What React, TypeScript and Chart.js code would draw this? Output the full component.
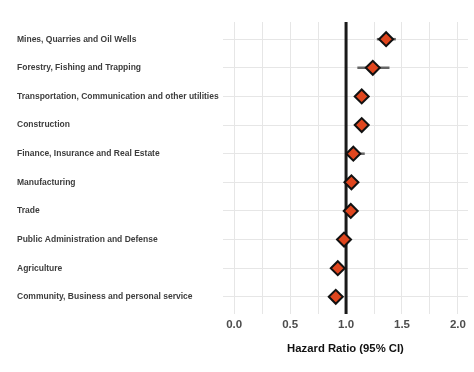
import { useEffect, useRef } from "react";
import { Chart, registerables } from "chart.js";

Chart.register(...registerables);

// Industries listed top to bottom
const industries = [
  "Mines, Quarries and Oil Wells",
  "Forestry, Fishing and Trapping",
  "Transportation, Communication and other utilities",
  "Construction",
  "Finance, Insurance and Real Estate",
  "Manufacturing",
  "Trade",
  "Public Administration and Defense",
  "Agriculture",
  "Community, Business and personal service",
];

const hazardRatio = [1.358, 1.239, 1.14, 1.14, 1.065, 1.048, 1.042, 0.982, 0.926, 0.908];
const ciLower = [1.275, 1.101, 1.1, 1.09, 1.0, 1.01, 1.0, 0.95, 0.88, 0.87];
const ciUpper = [1.445, 1.388, 1.18, 1.19, 1.167, 1.09, 1.08, 1.02, 0.97, 0.95];

// Vertical grid positions (majors every 0.5 are labelled)
const xGrid = [0, 0.25, 0.5, 0.75, 1, 1.25, 1.5, 1.75, 2];
const xLabelled = [0, 0.5, 1, 1.5, 2];
const referenceValue = 1;

const FONT = "'Liberation Sans', Arial, Helvetica, sans-serif";

export default function App() {
  const canvasRef = useRef<HTMLCanvasElement | null>(null);

  useEffect(() => {
    if (!canvasRef.current) return;
    const rows = industries.map((_, i) => i + 1);

    const ciSets = industries.map((_, i) => ({
      type: "line" as const,
      data: [
        { x: ciLower[i], y: rows[i] },
        { x: ciUpper[i], y: rows[i] },
      ],
      borderColor: "#666666",
      borderWidth: 2.5,
      pointRadius: 0,
      showLine: true,
      order: 2,
    }));

    const chart = new Chart(canvasRef.current, {
      type: "scatter",
      data: {
        datasets: [
          {
            type: "scatter",
            data: hazardRatio.map((v, i) => ({ x: v, y: rows[i] })),
            pointStyle: "rectRot",
            pointRadius: 7,
            backgroundColor: "#E0461E",
            borderColor: "#111111",
            borderWidth: 2,
            order: 0,
          },
          {
            type: "line",
            data: [
              { x: referenceValue, y: 0.4 },
              { x: referenceValue, y: 10.6 },
            ],
            borderColor: "#1a1a1a",
            borderWidth: 3,
            pointRadius: 0,
            showLine: true,
            order: 1,
          },
          ...ciSets,
        ] as any,
      },
      options: {
        animation: false,
        responsive: true,
        maintainAspectRatio: false,
        layout: { autoPadding: false, padding: { left: 17, right: 6, top: 22, bottom: 0 } },
        plugins: {
          legend: { display: false },
          tooltip: { enabled: false },
        },
        scales: {
          x: {
            type: "linear",
            min: -0.1,
            max: 2.09,
            afterBuildTicks: (scale: any) => {
              scale.ticks = xGrid.map((v) => ({ value: v }));
            },
            afterFit: (scale: any) => {
              scale.height = 58;
              scale.paddingLeft = 0;
              scale.paddingRight = 0;
            },
            grid: { color: "#e6e6e6", lineWidth: 1, drawTicks: false },
            border: { display: false },
            ticks: {
              padding: 4,
              autoSkip: false,
              maxRotation: 0,
              color: "#4d4d4d",
              font: { family: FONT, size: 11.5, weight: "bold" },
              callback: (v: any) =>
                xLabelled.some((m) => Math.abs(m - v) < 1e-9) ? Number(v).toFixed(1) : "",
            },
            title: {
              display: true,
              text: "Hazard Ratio (95% CI)",
              color: "#111111",
              font: { family: FONT, size: 11.3, weight: "bold" },
              padding: { top: 0, bottom: 16 },
            },
          },
          y: {
            type: "linear",
            min: 0.4,
            max: 10.6,
            reverse: true,
            afterBuildTicks: (scale: any) => {
              scale.ticks = rows.map((v) => ({ value: v }));
            },
            afterFit: (scale: any) => {
              scale.width = 206;
              scale.paddingTop = 0;
              scale.paddingBottom = 0;
            },
            grid: { color: "#e6e6e6", lineWidth: 1, drawTicks: false },
            border: { display: false },
            ticks: {
              crossAlign: "far",
              autoSkip: false,
              color: "#3d3d3d",
              font: { family: FONT, size: 8.5, weight: "bold" },
              callback: (v: any) => industries[Math.round(Number(v)) - 1] ?? "",
            },
          },
        },
      } as any,
    });

    return () => chart.destroy();
  }, []);

  return (
    <div style={{ position: "fixed", left: 0, top: 0, width: 474, height: 372, background: "#ffffff" }}>
      <canvas ref={canvasRef} />
    </div>
  );
}
